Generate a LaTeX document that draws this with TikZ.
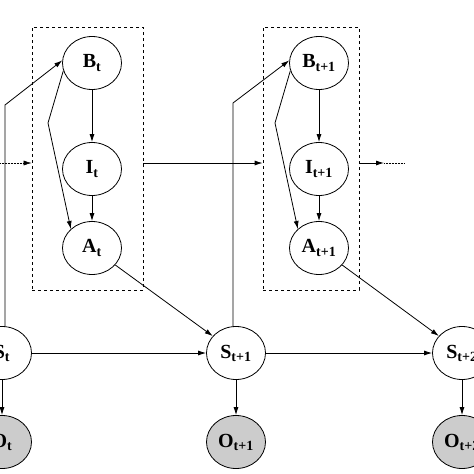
\documentclass[tikz,border=0pt]{standalone}
\usepackage{fontspec}
\setmainfont{Liberation Serif}
\usetikzlibrary{arrows.meta,shapes.geometric}

\begin{document}
\begin{tikzpicture}[x=1pt,y=-1pt,line width=0.8pt,>={Latex[length=8pt,width=5pt]},
  var/.style={draw,ellipse,minimum width=59pt,minimum height=53pt,inner sep=0pt,
    font=\bfseries\fontsize{20}{20}\selectfont},
  obs/.style={var,fill=black!20},
  slice/.style={draw,dashed,inner sep=0pt}]
  \useasboundingbox (0,0) rectangle (474,474);
  % time slices
  \node[slice,minimum width=111pt,minimum height=263pt] (box0) at (87.5,158.5) {};
  \node[slice,minimum width=96pt,minimum height=263pt] (box1) at (311,158.5) {};
  \node[var] (B0) at (92,63) {B\textsubscript{t}};
  \node[var] (I0) at (92,169) {I\textsubscript{t}};
  \node[var] (A0) at (92,248) {A\textsubscript{t}};
  \node[var] (B1) at (319,63) {B\textsubscript{t+1}};
  \node[var] (I1) at (319,169) {I\textsubscript{t+1}};
  \node[var] (A1) at (319,248) {A\textsubscript{t+1}};
  % states and observations
  \node[var] (S0) at (2,353) {S\textsubscript{t}};
  \node[var] (S1) at (236,353) {S\textsubscript{t+1}};
  \node[var] (S2) at (462,353) {S\textsubscript{t+2}};
  \node[obs] (O0) at (2,442) {O\textsubscript{t}};
  \node[obs] (O1) at (236,442) {O\textsubscript{t+1}};
  \node[obs] (O2) at (462,442) {O\textsubscript{t+2}};
  \coordinate (in0) at (0,163);
  \coordinate (out1) at (384,163);
  \coordinate (end1) at (405,163);
  \coordinate (up0) at (5,105);
  \coordinate (up1) at (233,103);
  \coordinate (bend0) at (48,123);
  \coordinate (bend1) at (275,123);

  \path[->]
  (B0) edge (I0)
  (I0) edge (A0)
  (B1) edge (I1)
  (I1) edge (A1)
  (A0) edge (S1)
  (A1) edge (S2)
  (S0) edge (S1)
  (S1) edge (S2)
  (S0) edge (O0)
  (S1) edge (O1)
  (S2) edge (O2)
  (box0.east |- in0) edge (box1.west |- in0)
  (box1.east |- in0) edge (out1)
  ;
  \draw[->,densely dotted,line width=0.5pt] (in0) -- (box0.west |- in0);
  \draw[densely dotted,line width=0.5pt] (out1) -- (end1);
  \draw[->] (S0.north -| up0) -- (up0) -- (B0.175);
  \draw[->] (S1.north -| up1) -- (up1) -- (B1.175);
  \draw[->] (B0.195) -- (bend0) -- (A0.north west);
  \draw[->] (B1.195) -- (bend1) -- (A1.north west);
\end{tikzpicture}
\end{document}
